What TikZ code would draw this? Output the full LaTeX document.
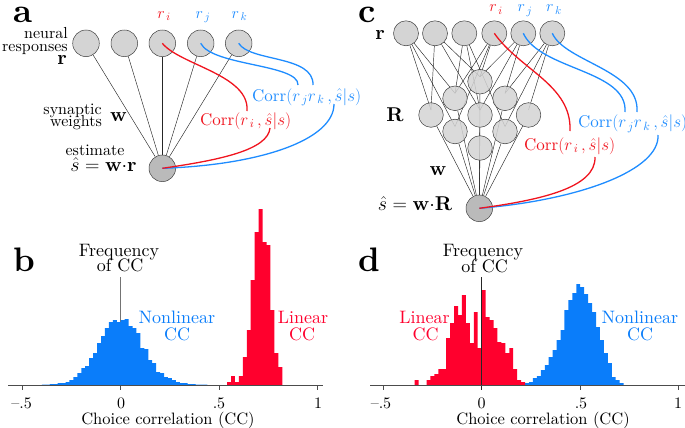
\RequirePackage{fix-cm}
\documentclass[tikz,border=0pt]{standalone}
\usepackage{fontspec}
\setmainfont{lmroman10-regular}[Extension=.otf, BoldFont=lmroman10-bold, ItalicFont=lmroman10-italic, BoldItalicFont=lmroman10-bolditalic]
\usetikzlibrary{calc}
\definecolor{hred}{RGB}{255,0,45}
\definecolor{hblue}{RGB}{10,125,250}
\definecolor{netred}{RGB}{240,20,30}
\definecolor{netblue}{RGB}{30,140,255}
\pgfdeclarelayer{bg}
\pgfsetlayers{bg,main}
\tikzset{
  neuron/.style={circle, draw=black!75, fill=black!17, line width=0.5pt, minimum size=26.6pt, inner sep=0},
  cneuron/.style={neuron, minimum size=25pt},
  rneuron/.style={neuron, minimum size=24.6pt, fill opacity=0.85},
  outneuron/.style={neuron, fill=black!27},
  conn/.style={draw=black!85, line width=0.45pt},
  redc/.style={draw=netred, line width=1.3pt},
  bluec/.style={draw=netblue, line width=1.3pt},
  lab/.style={inner sep=0, font=\fontsize{16}{16}\selectfont},
  blab/.style={inner sep=0, font=\fontsize{20}{20}\selectfont},
  corr/.style={inner sep=0, font=\fontsize{17}{17}\selectfont},
  plab/.style={inner sep=0, font=\fontsize{34}{34}\selectfont\bfseries},
  hlab/.style={inner sep=0, font=\fontsize{18}{18}\selectfont},
  tlab/.style={inner sep=0, font=\fontsize{16}{16}\selectfont},
  axlab/.style={inner sep=0, font=\fontsize{16.5}{16.5}\selectfont},
  axisline/.style={draw=black!70, line width=0.9pt},
}
\begin{document}
\begin{tikzpicture}[x=1pt,y=-1pt]
\useasboundingbox (0,0) rectangle (685,428);

% ================= panel a =================
\node[plab, anchor=base] (la) at (23,23) {a};
\node[neuron] (a1) at (86,43.3) {};
\node[neuron] (a2) at (124.3,43.3) {};
\node[neuron] (a3) at (162.3,43.3) {};
\node[neuron] (a4) at (200.7,43.3) {};
\node[neuron] (a5) at (238.7,43.3) {};
\node[outneuron] (ab) at (162.3,168.3) {};
\begin{pgfonlayer}{bg}
  \foreach \n in {a1,a2,a3,a4,a5} \draw[conn] (\n) -- (ab);
\end{pgfonlayer}
\node[lab, anchor=base, text=netred] (ari) at (164,18.3) {$r_{\,i}$};
\node[lab, anchor=base, text=netblue] (arj) at (203,18.3) {$r_{\,j}$};
\node[lab, anchor=base, text=netblue] (ark) at (239.5,18.3) {$r_{\,k}$};
\node[lab, anchor=base east] (aneu) at (68,38.3) {neural};
\node[lab, anchor=base east] (aresp) at (68,51.7) {responses};
\node[blab, anchor=base east] (ar) at (67,65) {$\mathbf{r}$};
\node[lab, anchor=base east] (asyn) at (102,114) {synaptic};
\node[lab, anchor=base east] (awei) at (102,126.5) {weights};
\node[blab, anchor=base west] (aw) at (110,121.7) {$\mathbf{w}$};
\node[lab, anchor=base] (aest) at (95,155) {estimate};
\node[blab, anchor=base] (aform) at (103.5,171) {$\hat{s}=\mathbf{w}{\cdot}\mathbf{r}$};
\node[corr, anchor=base west, text=netred] (acr) at (200,125) {Corr$(r_{\,i}\,,\hat{s}|s)$};
\node[corr, anchor=base west, text=netblue] (acb) at (252,101) {Corr$(r_{\,j}r_{\,k}\,,\hat{s}|s)$};
\coordinate (aer1) at (247,111);
\coordinate (aer2) at (270,128);
\coordinate (aeb1) at (298,85);
\coordinate (aeb2) at (313,85);
\coordinate (aeb3) at (334,104);
\draw[redc] (a3.center) .. controls (180,65) and (250,75) .. (aer1);
\draw[bluec] (a4.center) .. controls (212,66) and (299,64) .. (aeb1);
\draw[bluec] (a5.center) .. controls (250,62) and (314,55) .. (aeb2);
\draw[bluec] (ab.center) .. controls (260,165) and (334,140) .. (aeb3);
\draw[redc] (ab.center) .. controls (220,160) and (268,150) .. (aer2);

% ================= panel c =================
\node[plab, anchor=base] (lc) at (366.7,23) {c};
\node[rneuron] (R1) at (480,81.7) {};
\node[rneuron] (R2) at (455,98.3) {};
\node[rneuron] (R3) at (505,98.3) {};
\node[rneuron] (R4) at (431,115) {};
\node[rneuron] (R5) at (480,115) {};
\node[rneuron] (R6) at (528.5,115) {};
\node[rneuron] (R7) at (455,131.5) {};
\node[rneuron] (R8) at (505,131.5) {};
\node[rneuron] (R9) at (480,148) {};
\node[cneuron] (c1) at (406,33.3) {};
\node[cneuron] (c2) at (435,33.3) {};
\node[cneuron] (c3) at (464.3,33.3) {};
\node[cneuron] (c4) at (494.3,33.3) {};
\node[cneuron] (c5) at (523.3,33.3) {};
\node[cneuron] (c6) at (552.3,33.3) {};
\node[outneuron] (cb) at (479.3,208.3) {};
\begin{pgfonlayer}{bg}
  \foreach \t/\r in {c1/R4,c1/R2,c1/R7,c2/R4,c2/R1,c2/R5,c3/R2,c3/R5,c3/R8,
                     c4/R2,c4/R1,c4/R7,c5/R1,c5/R3,c5/R5,c6/R6,c6/R3,c6/R8}
    \draw[conn] (\t) -- ($(\r.center)+(0,-5)$);
  \foreach \r in {R1,R2,R3,R4,R5,R6,R7,R8,R9} \draw[conn] (\r) -- (cb);
\end{pgfonlayer}
\node[lab, anchor=base, text=netred] (cri) at (496,12) {$r_{\,i}$};
\node[lab, anchor=base, text=netblue] (crj) at (525,12) {$r_{\,j}$};
\node[lab, anchor=base, text=netblue] (crk) at (554,12) {$r_{\,k}$};
\node[blab, anchor=base] (cr) at (380,39.3) {$\mathbf{r}$};
\node[blab, anchor=base] (cR) at (395,121.7) {$\mathbf{R}$};
\node[blab, anchor=base] (cw) at (438,175) {$\mathbf{w}$};
\node[blab, anchor=base] (cform) at (415,210) {$\hat{s}=\mathbf{w}{\cdot}\mathbf{R}$};
\node[corr, anchor=base west, text=netred] (ccr) at (524,150) {Corr$(r_{\,i}\,,\hat{s}|s)$};
\node[corr, anchor=base west, text=netblue] (ccb) at (578,127.7) {Corr$(r_{\,j}r_{\,k}\,,\hat{s}|s)$};
\coordinate (cer1) at (570,131);
\coordinate (cer2) at (595,157);
\coordinate (ceb1) at (625,112);
\coordinate (ceb2) at (637,112);
\coordinate (ceb3) at (658,135);
\draw[redc] (c4.center) .. controls (520,70) and (572,85) .. (cer1);
\draw[bluec] (c5.center) .. controls (540,70) and (628,70) .. (ceb1);
\draw[bluec] (c6.center) .. controls (565,62) and (640,70) .. (ceb2);
\draw[bluec] (cb.center) .. controls (580,200) and (660,170) .. (ceb3);
\draw[redc] (cb.center) .. controls (540,200) and (596,188) .. (cer2);

% ================= panel b =================
\node[plab, anchor=base] (lb) at (24,271.7) {b};
\coordinate (bz) at (120.7,277);
\coordinate (bzb) at (120.7,390);
\draw[draw=black!55, line width=0.7pt] (bz) -- (bzb);
\fill[hblue] (41.9,385) \foreach \h [count=\i from 0] in
  {0.5,0.5,1,1,2,2,3,5,8,12,17,19,27,32,42,49,57,63,65,63,65,66,59,57,52,37,36,25,22,13,12,8,7,5,3,2,2,1,1,0.5,0.5,0.5}
  { -- ({41.9+\i*3.94},{385-\h}) -- ({41.9+(\i+1)*3.94},{385-\h}) } -- (207.4,385) -- cycle;
\fill[hred] (227.1,385) \foreach \h [count=\i from 0] in
  {3,9,3,9,28,55,105,153,176,143,140,75,32,18}
  { -- ({227.1+\i*3.94},{385-\h}) -- ({227.1+(\i+1)*3.94},{385-\h}) } -- (282.3,385) -- cycle;
\coordinate (bax0) at (8,385);
\coordinate (bax1) at (323,385);
\draw[axisline] (bax0) -- (bax1);
\foreach \x in {22.2,120.7,219.2,317.7} \draw[axisline] (\x,385) -- (\x,390);
\node[tlab, anchor=base] (bt1) at (21.7,408.3) {--.5};
\node[tlab, anchor=base] (bt2) at (121,408.3) {0};
\node[tlab, anchor=base] (bt3) at (219,408.3) {.5};
\node[tlab, anchor=base] (bt4) at (318,408.3) {1};
\node[axlab, anchor=base] (bxl) at (168,424) {Choice correlation (CC)};
\node[hlab, anchor=base] (bf1) at (119,256.7) {Frequency};
\node[hlab, anchor=base] (bf2) at (120,271.7) {of CC};
\node[hlab, anchor=base, text=hblue] (bn1) at (177,323.3) {Nonlinear};
\node[hlab, anchor=base, text=hblue] (bn2) at (177,340) {CC};
\node[hlab, anchor=base, text=hred] (bl1) at (303,323.3) {Linear};
\node[hlab, anchor=base, text=hred] (bl2) at (302,340) {CC};

% ================= panel d =================
\node[plab, anchor=base] (ld) at (369,271.7) {d};
\fill[hblue] (517.2,385) \foreach \h [count=\i from 0] in
  {1,2,2,3,7,9,15,20,28,35,45,55,75,85,92,101,98,91,82,73,58,45,32,22,8,5,2}
  { -- ({517.2+\i*3.94},{385-\h}) -- ({517.2+(\i+1)*3.94},{385-\h}) } -- (623.6,385) -- cycle;
\fill[hred] (414.7,385) \foreach \h [count=\i from 0] in
  {5,0,0,5,9,11,16,16,47,62,79,70,90,62,42,73,37,95,68,65,57,43,42,32,37,16,5,3}
  { -- ({414.7+\i*3.94},{385-\h}) -- ({414.7+(\i+1)*3.94},{385-\h}) } -- (525.0,385) -- cycle;
\coordinate (dz) at (481.7,277);
\coordinate (dzb) at (481.7,390);
\draw[draw=black!85, line width=0.7pt] (dz) -- (dzb);
\coordinate (dax0) at (370,385);
\coordinate (dax1) at (685,385);
\draw[axisline] (dax0) -- (dax1);
\foreach \x in {383.2,580.2,678.7} \draw[axisline] (\x,385) -- (\x,390);
\node[tlab, anchor=base] (dt1) at (381,408.3) {--.5};
\node[tlab, anchor=base] (dt2) at (481.7,408.3) {0};
\node[tlab, anchor=base] (dt3) at (581,408.3) {.5};
\node[tlab, anchor=base] (dt4) at (678,408.3) {1};
\node[axlab, anchor=base] (dxl) at (543,424) {Choice correlation (CC)};
\node[hlab, anchor=base] (df1) at (483,256.7) {Frequency};
\node[hlab, anchor=base] (df2) at (484.5,272.7) {of CC};
\node[hlab, anchor=base, text=hred] (dl1) at (424.5,323.3) {Linear};
\node[hlab, anchor=base, text=hred] (dl2) at (425.5,340) {CC};
\node[hlab, anchor=base, text=hblue] (dn1) at (640,323.3) {Nonlinear};
\node[hlab, anchor=base, text=hblue] (dn2) at (640,340) {CC};
\end{tikzpicture}
\end{document}
